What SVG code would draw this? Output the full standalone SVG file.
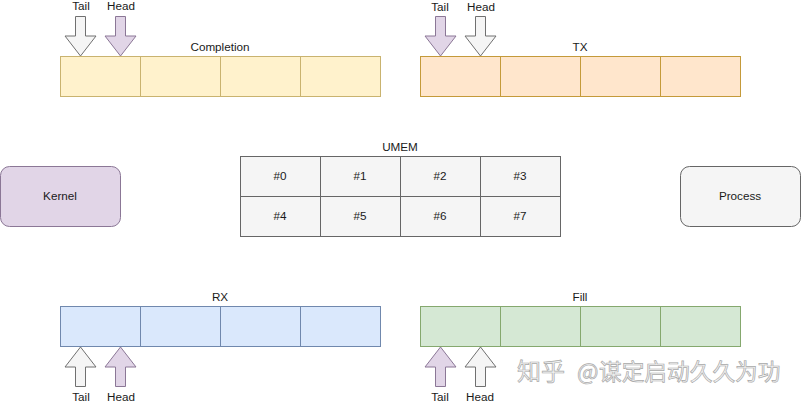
<svg xmlns="http://www.w3.org/2000/svg" width="802" height="405" viewBox="0 0 802 405">
<style>
text{font-family:"Liberation Sans",Arial,sans-serif;font-size:11.7px;fill:#1a1a1a;text-anchor:middle}
.y{fill:#fff2cc;stroke:#c9b36f}.o{fill:#ffe6cc;stroke:#c49a3a}.b{fill:#dae8fc;stroke:#7088ad}.g{fill:#d5e8d4;stroke:#85a86e}
.m{fill:#f5f5f5;stroke:#666}.p{fill:#e1d5e7;stroke:#8b7796}.a{stroke:#707070;fill:#f5f5f5}.ap{fill:#e1d5e7;stroke:#8b7796}
.wm{font-family:"Noto Sans CJK SC","Liberation Sans",sans-serif;fill:#f4f4f4;stroke:#a8a8a8;stroke-width:.7;text-anchor:start}
</style>
<defs>
<path id="down" d="M-5 -39.500H5V-20H15.500L0 0L-15.500 -20H-5Z"/>
<path id="up" d="M-5 39.500H5V20H15.500L0 0L-15.500 20H-5Z"/>
<g id="row"><rect x="0.500" y="0.500" width="80" height="40"/><rect x="80.500" y="0.500" width="80" height="40"/><rect x="160.500" y="0.500" width="80" height="40"/><rect x="240.500" y="0.500" width="80" height="40"/></g>
</defs>
<g id="completion"><use href="#row" class="y" x="60" y="56"/><text x="220" y="51">Completion</text></g>
<g id="tx"><use href="#row" class="o" x="420" y="56"/><text x="580" y="51">TX</text></g>
<g id="rx"><use href="#row" class="b" x="60" y="306"/><text x="220" y="301">RX</text></g>
<g id="fill"><use href="#row" class="g" x="420" y="306"/><text x="580" y="301">Fill</text></g>
<g id="umem"><text x="400" y="151">UMEM</text>
<use href="#row" class="m" x="240" y="156"/><use href="#row" class="m" x="240" y="196"/>
<text x="280" y="180">#0</text><text x="360" y="180">#1</text><text x="440" y="180">#2</text><text x="520" y="180">#3</text>
<text x="280" y="220">#4</text><text x="360" y="220">#5</text><text x="440" y="220">#6</text><text x="520" y="220">#7</text></g>
<g id="kernel"><rect class="p" x="0.500" y="166.500" width="120" height="60" rx="9"/><text x="60" y="200">Kernel</text></g>
<g id="process"><rect class="m" x="680.500" y="166.500" width="120" height="60" rx="9"/><text x="740" y="200">Process</text></g>
<g id="connectors">
<use href="#down" class="a" x="80.500" y="56"/><use href="#down" class="ap" x="120.500" y="56"/>
<use href="#down" class="ap" x="440.500" y="56"/><use href="#down" class="a" x="480.500" y="56"/>
<use href="#up" class="a" x="80.500" y="347"/><use href="#up" class="ap" x="120.500" y="347"/>
<use href="#up" class="ap" x="440.500" y="347"/><use href="#up" class="a" x="480.500" y="347"/>
</g>
<g id="labels">
<text x="81" y="10">Tail</text><text x="121" y="10">Head</text><text x="440" y="11">Tail</text><text x="481" y="11">Head</text>
<text x="81" y="401">Tail</text><text x="121" y="401">Head</text><text x="440" y="401">Tail</text><text x="480" y="401">Head</text>
</g>
<g id="watermark">
<text class="wm" x="517" y="380" font-size="24" style="font-size:24px">知乎</text>
<text class="wm" x="577" y="380" style="font-size:22.700px">@</text>
<text class="wm" x="599" y="380" style="font-size:22.700px">谋定启动久久为功</text>
</g>
</svg>
